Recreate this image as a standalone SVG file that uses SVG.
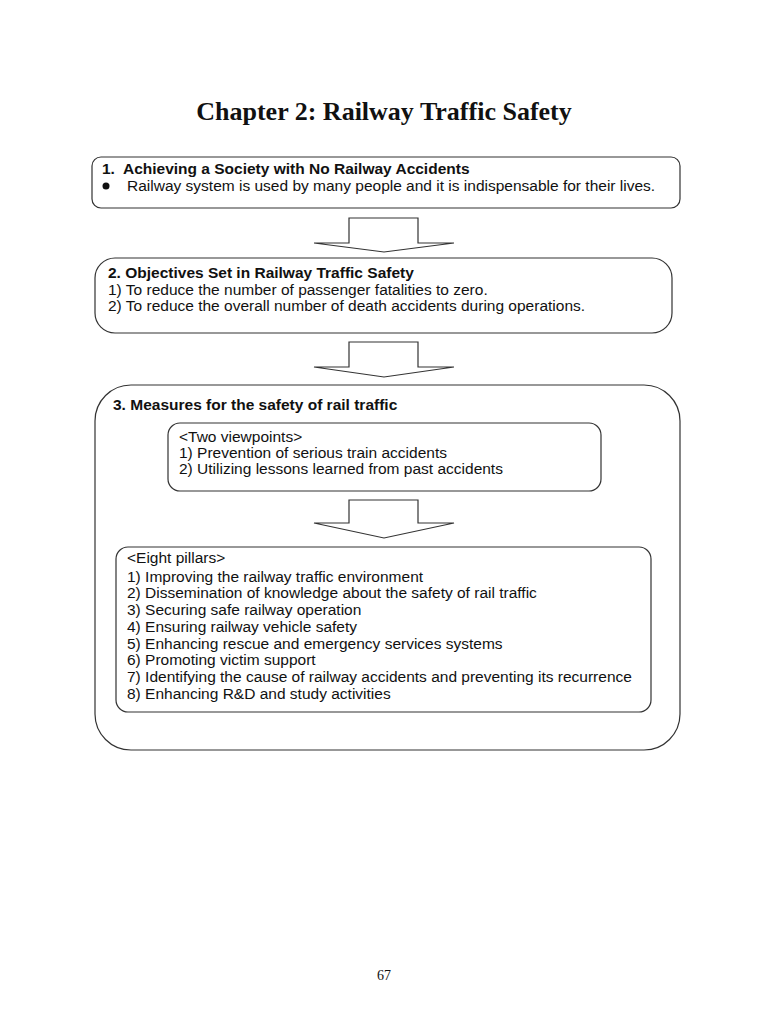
<svg xmlns="http://www.w3.org/2000/svg" width="768" height="1024" viewBox="0 0 768 1024">
<style>
.box{fill:#fff;stroke:#333;stroke-width:1.2}
.t{font-family:"Liberation Sans",Arial,sans-serif;font-size:15.5px;fill:#111}
.b{font-weight:bold}
.arr{fill:#fff;stroke:#333;stroke-width:1.2;stroke-linejoin:miter}
</style>
<rect width="768" height="1024" fill="#fff"/>
<text x="384" y="120" text-anchor="middle" font-family="'Liberation Serif','Times New Roman',serif" font-size="26" font-weight="bold" fill="#111">Chapter 2: Railway Traffic Safety</text>

<g id="node1">
<rect class="box" x="92" y="157" width="588" height="51" rx="9"/>
<text class="t b" x="102" y="174" xml:space="preserve">1.  Achieving a Society with No Railway Accidents</text>
<circle cx="106" cy="186" r="3.5" fill="#111"/>
<text class="t" x="127" y="191">Railway system is used by many people and it is indispensable for their lives.</text>
</g>

<g id="node2">
<rect class="box" x="95" y="258" width="577" height="75" rx="20"/>
<text class="t b" x="108" y="278">2. Objectives Set in Railway Traffic Safety</text>
<text class="t" x="108" y="295">1) To reduce the number of passenger fatalities to zero.</text>
<text class="t" x="108" y="311">2) To reduce the overall number of death accidents during operations.</text>
</g>

<g id="node3">
<rect class="box" x="95" y="385" width="585" height="365" rx="36"/>
<text class="t b" x="113" y="410">3. Measures for the safety of rail traffic</text>
</g>

<g id="node3a">
<rect class="box" x="168" y="423" width="433" height="68" rx="12"/>
<text class="t" x="179" y="442">&lt;Two viewpoints&gt;</text>
<text class="t" x="179" y="458">1) Prevention of serious train accidents</text>
<text class="t" x="179" y="474">2) Utilizing lessons learned from past accidents</text>
</g>

<g id="node3b">
<rect class="box" x="116" y="547" width="535" height="165" rx="12"/>
<text class="t" x="127" y="563">&lt;Eight pillars&gt;</text>
<text class="t" x="127" y="582">1) Improving the railway traffic environment</text>
<text class="t" x="127" y="598">2) Dissemination of knowledge about the safety of rail traffic</text>
<text class="t" x="127" y="615">3) Securing safe railway operation</text>
<text class="t" x="127" y="632">4) Ensuring railway vehicle safety</text>
<text class="t" x="127" y="649">5) Enhancing rescue and emergency services systems</text>
<text class="t" x="127" y="665">6) Promoting victim support</text>
<text class="t" x="127" y="682">7) Identifying the cause of railway accidents and preventing its recurrence</text>
<text class="t" x="127" y="699">8) Enhancing R&amp;D and study activities</text>
</g>

<g id="connectors">
<path class="arr" d="M349,218 H418 V243 H454 L384,252 L314,243 H349 Z"/>
<path class="arr" d="M349,342 H418 V367 H454 L384,377 L314,367 H349 Z"/>
<path class="arr" d="M349,500 H418 V523 H454 L384,538 L314,523 H349 Z"/>
</g>

<text x="384" y="980" text-anchor="middle" font-family="'Liberation Serif','Times New Roman',serif" font-size="14" fill="#111">67</text>
</svg>
